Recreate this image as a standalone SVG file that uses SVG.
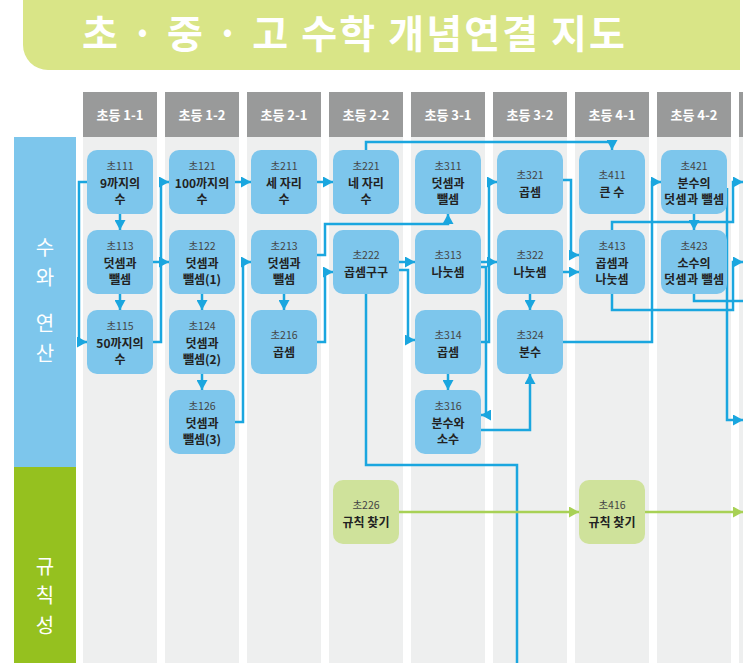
<svg xmlns="http://www.w3.org/2000/svg" width="743" height="663" viewBox="0 0 743 663">
<defs>
<style>
.col{fill:#eeefef}
.hd{fill:#999a9a}
.hdt{fill:#fff;font-family:"Noto Sans CJK KR",sans-serif;font-size:13px;font-weight:bold;text-anchor:middle}
.n{fill:#7dc6ec}
.g{fill:#cfe29b}
.code{fill:#444;font-family:"Noto Sans CJK KR",sans-serif;font-size:10.5px;text-anchor:middle}
.lb{fill:#222;font-family:"Noto Sans CJK KR",sans-serif;font-size:12px;font-weight:bold;text-anchor:middle}
.side{fill:#fff;font-family:"Noto Sans CJK KR",sans-serif;font-size:20px;text-anchor:middle}
.c{fill:none;stroke:#1aa6df;stroke-width:2.5;marker-end:url(#a)}
.cn{fill:none;stroke:#1aa6df;stroke-width:2.5}
.cg{fill:none;stroke:#a8d155;stroke-width:2.5;marker-end:url(#ag)}
</style>
<marker id="a" markerUnits="userSpaceOnUse" markerWidth="10" markerHeight="11" viewBox="0 0 10 11" refX="10" refY="5.5" orient="auto"><path d="M0,0L10,5.5L0,11z" fill="#1aa6df"/></marker>
<marker id="ag" markerUnits="userSpaceOnUse" markerWidth="10" markerHeight="11" viewBox="0 0 10 11" refX="10" refY="5.5" orient="auto"><path d="M0,0L10,5.5L0,11z" fill="#a8d155"/></marker>
</defs>
<rect width="743" height="663" fill="#fff"/>
<path d="M23,0H740V70H48A25,25 0 0 1 23,45Z" fill="#d9e587"/>
<text x="82" y="48" fill="#fff" font-family="'Noto Sans CJK KR',sans-serif" font-size="39" font-weight="bold" textLength="543" lengthAdjust="spacing">초 · 중 · 고 수학 개념연결 지도</text>
<g id="columns">
<rect class="col" x="83" y="137" width="74" height="526"/><rect class="col" x="165" y="137" width="74" height="526"/><rect class="col" x="247" y="137" width="74" height="526"/><rect class="col" x="329" y="137" width="74" height="526"/><rect class="col" x="411" y="137" width="74" height="526"/><rect class="col" x="493" y="137" width="74" height="526"/><rect class="col" x="575" y="137" width="74" height="526"/><rect class="col" x="657" y="137" width="74" height="526"/><rect class="col" x="739" y="137" width="10" height="526"/>
<rect class="hd" x="83" y="92" width="74" height="45"/><rect class="hd" x="165" y="92" width="74" height="45"/><rect class="hd" x="247" y="92" width="74" height="45"/><rect class="hd" x="329" y="92" width="74" height="45"/><rect class="hd" x="411" y="92" width="74" height="45"/><rect class="hd" x="493" y="92" width="74" height="45"/><rect class="hd" x="575" y="92" width="74" height="45"/><rect class="hd" x="657" y="92" width="74" height="45"/><rect class="hd" x="739" y="92" width="10" height="45"/>
<text class="hdt" x="120" y="120">초등 1-1</text><text class="hdt" x="202" y="120">초등 1-2</text><text class="hdt" x="284" y="120">초등 2-1</text><text class="hdt" x="366" y="120">초등 2-2</text><text class="hdt" x="448" y="120">초등 3-1</text><text class="hdt" x="530" y="120">초등 3-2</text><text class="hdt" x="612" y="120">초등 4-1</text><text class="hdt" x="694" y="120">초등 4-2</text>
</g>
<g id="side">
<rect x="14" y="137" width="62" height="330" fill="#7dc6ec"/>
<rect x="14" y="467" width="62" height="196" fill="#95c11f"/>
<text class="side" x="45" y="255">수</text><text class="side" x="45" y="285">와</text><text class="side" x="45" y="331">연</text><text class="side" x="45" y="361">산</text>
<text class="side" x="45" y="574">규</text><text class="side" x="45" y="603">칙</text><text class="side" x="45" y="633">성</text>
</g>
<g id="connectors">
<path class="c" d="M87,182H79V342H87"/>
<path class="c" d="M120,214V230"/><path class="c" d="M120,294V310"/>
<path class="c" d="M153,262H169"/>
<path class="c" d="M153,342H161V182H169"/>
<path class="c" d="M235,182H251"/><path class="c" d="M317,182H333"/>
<path class="c" d="M202,294V310"/><path class="c" d="M202,374V390"/>
<path class="c" d="M235,422H243V262H251"/>
<path class="c" d="M284,294V310"/>
<path class="c" d="M317,255H325V224H448V214"/>
<path class="c" d="M317,342H325V272H333"/>
<path class="c" d="M366,150V142H612V150"/>
<path class="c" d="M399,262H415"/>
<path class="c" d="M399,270H408V340H415"/>
<path class="cn" d="M366,294V465H517V663"/>
<path class="c" d="M481,262H497"/>
<path class="c" d="M481,267H486V415H481"/>
<path class="c" d="M481,342H489V182H497"/>
<path class="c" d="M448,374V390"/>
<path class="c" d="M481,430H530V374"/>
<path class="c" d="M530,294V310"/>
<path class="c" d="M563,180H571V255H579"/>
<path class="c" d="M563,272H579"/>
<path class="c" d="M563,342H652V182H661"/>
<path class="c" d="M694,214V230"/>
<path class="c" d="M612,230V222H733V182H743"/>
<path class="c" d="M612,294V310H733V262H743"/>
<path class="c" d="M727,188V420H743"/>
<path class="cn" d="M694,294V301H743"/>
<path class="cg" d="M399,512H579"/>
<path class="cg" d="M645,512H743"/>
</g>
<g id="n111"><rect class="n" x="87" y="150" width="66" height="64" rx="10"/><text class="code" x="120" y="170">초111</text><text class="lb" x="120" y="188">9까지의</text><text class="lb" x="120" y="204">수</text></g>
<g id="n113"><rect class="n" x="87" y="230" width="66" height="64" rx="10"/><text class="code" x="120" y="250">초113</text><text class="lb" x="120" y="268">덧셈과</text><text class="lb" x="120" y="284">뺄셈</text></g>
<g id="n115"><rect class="n" x="87" y="310" width="66" height="64" rx="10"/><text class="code" x="120" y="330">초115</text><text class="lb" x="120" y="348">50까지의</text><text class="lb" x="120" y="364">수</text></g>
<g id="n121"><rect class="n" x="169" y="150" width="66" height="64" rx="10"/><text class="code" x="202" y="170">초121</text><text class="lb" x="202" y="188">100까지의</text><text class="lb" x="202" y="204">수</text></g>
<g id="n122"><rect class="n" x="169" y="230" width="66" height="64" rx="10"/><text class="code" x="202" y="250">초122</text><text class="lb" x="202" y="268">덧셈과</text><text class="lb" x="202" y="284">뺄셈(1)</text></g>
<g id="n124"><rect class="n" x="169" y="310" width="66" height="64" rx="10"/><text class="code" x="202" y="330">초124</text><text class="lb" x="202" y="348">덧셈과</text><text class="lb" x="202" y="364">뺄셈(2)</text></g>
<g id="n126"><rect class="n" x="169" y="390" width="66" height="64" rx="10"/><text class="code" x="202" y="410">초126</text><text class="lb" x="202" y="428">덧셈과</text><text class="lb" x="202" y="444">뺄셈(3)</text></g>
<g id="n211"><rect class="n" x="251" y="150" width="66" height="64" rx="10"/><text class="code" x="284" y="170">초211</text><text class="lb" x="284" y="188">세 자리</text><text class="lb" x="284" y="204">수</text></g>
<g id="n213"><rect class="n" x="251" y="230" width="66" height="64" rx="10"/><text class="code" x="284" y="250">초213</text><text class="lb" x="284" y="268">덧셈과</text><text class="lb" x="284" y="284">뺄셈</text></g>
<g id="n216"><rect class="n" x="251" y="310" width="66" height="64" rx="10"/><text class="code" x="284" y="339">초216</text><text class="lb" x="284" y="357">곱셈</text></g>
<g id="n221"><rect class="n" x="333" y="150" width="66" height="64" rx="10"/><text class="code" x="366" y="170">초221</text><text class="lb" x="366" y="188">네 자리</text><text class="lb" x="366" y="204">수</text></g>
<g id="n222"><rect class="n" x="333" y="230" width="66" height="64" rx="10"/><text class="code" x="366" y="259">초222</text><text class="lb" x="366" y="277">곱셈구구</text></g>
<g id="n311"><rect class="n" x="415" y="150" width="66" height="64" rx="10"/><text class="code" x="448" y="170">초311</text><text class="lb" x="448" y="188">덧셈과</text><text class="lb" x="448" y="204">뺄셈</text></g>
<g id="n313"><rect class="n" x="415" y="230" width="66" height="64" rx="10"/><text class="code" x="448" y="259">초313</text><text class="lb" x="448" y="277">나눗셈</text></g>
<g id="n314"><rect class="n" x="415" y="310" width="66" height="64" rx="10"/><text class="code" x="448" y="339">초314</text><text class="lb" x="448" y="357">곱셈</text></g>
<g id="n316"><rect class="n" x="415" y="390" width="66" height="64" rx="10"/><text class="code" x="448" y="410">초316</text><text class="lb" x="448" y="428">분수와</text><text class="lb" x="448" y="444">소수</text></g>
<g id="n321"><rect class="n" x="497" y="150" width="66" height="64" rx="10"/><text class="code" x="530" y="179">초321</text><text class="lb" x="530" y="197">곱셈</text></g>
<g id="n322"><rect class="n" x="497" y="230" width="66" height="64" rx="10"/><text class="code" x="530" y="259">초322</text><text class="lb" x="530" y="277">나눗셈</text></g>
<g id="n324"><rect class="n" x="497" y="310" width="66" height="64" rx="10"/><text class="code" x="530" y="339">초324</text><text class="lb" x="530" y="357">분수</text></g>
<g id="n411"><rect class="n" x="579" y="150" width="66" height="64" rx="10"/><text class="code" x="612" y="179">초411</text><text class="lb" x="612" y="197">큰 수</text></g>
<g id="n413"><rect class="n" x="579" y="230" width="66" height="64" rx="10"/><text class="code" x="612" y="250">초413</text><text class="lb" x="612" y="268">곱셈과</text><text class="lb" x="612" y="284">나눗셈</text></g>
<g id="n421"><rect class="n" x="661" y="150" width="66" height="64" rx="10"/><text class="code" x="694" y="170">초421</text><text class="lb" x="694" y="188">분수의</text><text class="lb" x="694" y="204" textLength="60">덧셈과 뺄셈</text></g>
<g id="n423"><rect class="n" x="661" y="230" width="66" height="64" rx="10"/><text class="code" x="694" y="250">초423</text><text class="lb" x="694" y="268">소수의</text><text class="lb" x="694" y="284" textLength="60">덧셈과 뺄셈</text></g>
<g id="n226"><rect class="g" x="333" y="480" width="66" height="64" rx="10"/><text class="code" x="366" y="509">초226</text><text class="lb" x="366" y="527">규칙 찾기</text></g>
<g id="n416"><rect class="g" x="579" y="480" width="66" height="64" rx="10"/><text class="code" x="612" y="509">초416</text><text class="lb" x="612" y="527">규칙 찾기</text></g>
</svg>
